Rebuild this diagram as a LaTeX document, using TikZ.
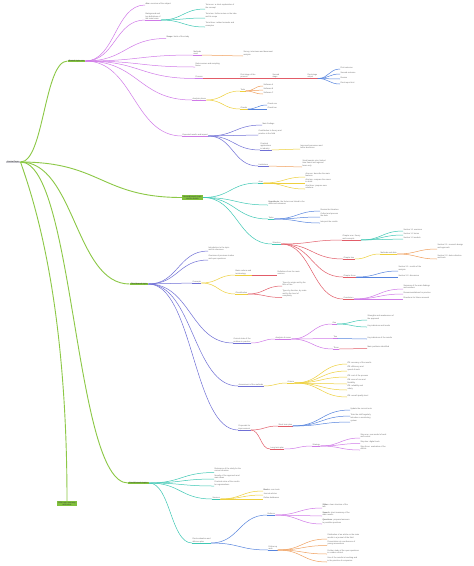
\documentclass[tikz,border=0pt]{standalone}
\usepackage{fontspec}
\setmainfont{Liberation Sans}
\usetikzlibrary{calc}
\definecolor{cgreen}{RGB}{140,200,70}
\definecolor{cgbox}{RGB}{128,192,60}
\definecolor{cpurple}{RGB}{208,122,232}
\definecolor{cteal}{RGB}{62,200,180}
\definecolor{cyellow}{RGB}{238,208,60}
\definecolor{corange}{RGB}{240,160,95}
\definecolor{cred}{RGB}{226,92,104}
\definecolor{cblue}{RGB}{86,132,222}
\definecolor{cindigo}{RGB}{112,112,214}
\definecolor{ctext}{RGB}{110,110,110}
\definecolor{croot}{RGB}{200,200,206}
\newcommand\T{\fontsize{2}{2.35}\selectfont}
% intermediate node with underline
\newcommand\nd[6][]{\node[lf,#1] (#2) at (#4,#5) {#6};\draw[ln,#3] (#2.south west) -- (#2.south east);}
% leaf without underline
\newcommand\lv[5]{\node[lf] (#1) at (#3,#4) {#5};}
\newcommand\cn[3]{\draw[ln,#1] let \p1=(#2.south east),\p2=(#3.south west),\p3=($(\p1)!.5!(\p2)$) in (\p1) .. controls (\x3,\y1) and (\x3,\y2) .. (\p2);}
\newcommand\cb[3]{\draw[ln,#1] let \p1=(#2.east),\p2=(#3.south west),\p3=($(\p1)!.5!(\p2)$) in (\p1) .. controls (\x3,\y1) and (\x3,\y2) .. (\p2);}
\newcommand\cg[2]{\draw[gl] let \p1=(#1.east),\p2=(#2.west),\p3=($(\p1)!.5!(\p2)$) in (\p1) .. controls (\x3,\y1) and (\x3,\y2) .. (\p2);}
\begin{document}
\begin{tikzpicture}[x=1pt,y=-1pt,
  lf/.style={anchor=south west,inner xsep=0.3pt,inner ysep=0.35pt,font=\T,text=ctext,align=left},
  ln/.style={line width=0.5pt},
  gl/.style={line width=0.9pt,cgreen},
  gbox/.style={fill=cgbox,font=\T,text=black!75,inner xsep=1.2pt,inner ysep=0.45pt,align=center},
  rootbox/.style={fill=croot,font=\T,text=black!80,inner xsep=1.5pt,inner ysep=0.5pt,align=center}]
\fill[white] (0,0) rectangle (474,566);
\useasboundingbox (0,0) rectangle (474,566);
% root and main branches
\node[rootbox] (root) at (13,162) {Central Topic};
\node[gbox] (G1) at (76.5,61) {Branch topic one};
\node[gbox] (G2) at (192.5,197.5) {Second branch topic\\and its details};
\node[gbox] (G3) at (139,284) {Third branch topic};
\node[gbox] (G4) at (138.5,483) {Fourth branch topics};
\node[gbox] (G5) at (67,503.5) {Fifth topic summary\\and notes};
% ---------- branch 1
\lv{Pa}{cpurple}{145}{5}{\textbf{Aim}: overview of the subject}
\nd{Pb}{cpurple}{145}{20}{Background and\\key definitions of\\the main terms}
\lv{Pb1}{cteal}{205}{9}{Term one: a short explanation of\\the concept}
\lv{Pb2}{cteal}{205}{18}{Term two: further notes on the idea\\and its scope}
\lv{Pb3}{cteal}{205}{27}{Term three: related remarks and\\examples}
\lv{Pc}{cpurple}{166}{38.5}{\textbf{Scope}: limits of the study}
\nd{Pd}{cpurple}{193}{55}{Methods\\used}
\lv{Pd1}{corange}{243}{56}{Survey, interviews and document\\analysis}
\lv{Pe}{cpurple}{195}{67}{Data sources and sampling\\frame}
\nd{Pf}{cpurple}{195}{78.5}{Process}
\nd{Pf1}{cred}{240}{78.5}{First stage of the\\process}
\nd{Pf2}{cred}{272}{78.5}{Second\\stage}
\nd{Pf3}{cred}{307}{78.5}{Final stage\\output}
\lv{Pfa}{cblue}{340}{69}{First outcome}
\lv{Pfb}{cblue}{340}{74}{Second outcome}
\lv{Pfc}{cblue}{340}{79}{Review}
\lv{Pfd}{cblue}{340}{84}{Final report text}
\nd{Pg}{cpurple}{192}{100}{Analysis phase}
\nd{Pg1}{cyellow}{240}{91}{Tools}
\lv{Pg1a}{corange}{263}{86}{Software A}
\lv{Pg1b}{corange}{263}{90}{Software B}
\lv{Pg1c}{corange}{263}{94}{Software C}
\nd{Pg2}{cyellow}{240}{109}{Checks}
\lv{Pg2a}{cblue}{267}{105}{Check one}
\lv{Pg2b}{cblue}{267}{109}{Check two}
\nd{Ph}{cpurple}{182}{136}{Expected results and impact}
\lv{Ph1}{cindigo}{262}{125}{Main findings}
\lv{Ph2}{cindigo}{258}{135}{Contribution to theory and\\practice in the field}
\nd{Ph3}{cindigo}{260}{150}{Practical\\applications\\in industry}
\lv{Ph3a}{cyellow}{300}{149}{Improved processes and\\better decisions}
\nd{Ph4}{cindigo}{258}{166}{Limitations}
\lv{Ph4a}{corange}{302}{167}{Small sample size, limited\\time frame and regional\\focus only}
% ---------- branch 2
\nd{Ta}{cteal}{258}{183}{Aims}
\lv{Ta1}{cyellow}{305}{177}{Aim one: describe the main\\features}
\lv{Ta2}{cyellow}{305}{183}{Aim two: compare the cases\\in detail}
\lv{Ta3}{cyellow}{305}{189}{Aim three: propose new\\solutions}
\lv{Tb}{cteal}{268}{205}{\textbf{Hypothesis}: the factors are linked to the\\observed outcomes}
\nd{Tc}{cteal}{268}{219}{Tasks}
\lv{Tc1}{cblue}{320}{211}{Review the literature}
\lv{Tc2}{cblue}{320}{217}{Collect and process\\the data}
\lv{Tc3}{cblue}{320}{223}{Interpret the results}
\nd{Td}{cteal}{272}{244}{Structure}
\nd{Ra}{cred}{342}{240}{Chapter one: theory\\and concepts}
\lv{Ra1}{cteal}{403}{231}{Section 1.1 overview}
\lv{Ra2}{cteal}{403}{235}{Section 1.2 terms}
\lv{Ra3}{cteal}{403}{239}{Section 1.3 models}
\nd{Rb}{cred}{343}{259}{Chapter two}
\nd{Rb1}{cyellow}{380}{254}{Methods and data}
\lv{Rb1a}{corange}{437}{249}{Section 2.1: research design\\and approach}
\lv{Rb1b}{corange}{437}{259}{Section 2.2: data collection\\and tools}
\nd{Rc}{cred}{343}{277}{Chapter three}
\lv{Rc1}{cblue}{398}{271}{Section 3.1: results of the\\analysis}
\lv{Rc2}{cblue}{398}{277}{Section 3.2: discussion}
\nd{Rd}{cred}{343}{299}{Conclusion}
\lv{Rd1}{cpurple}{403}{289}{Summary of the main findings\\and answers}
\lv{Rd2}{cpurple}{403}{294}{Recommendations for practice}
\lv{Rd3}{cpurple}{403}{299}{Directions for future research}
% ---------- branch 3
\lv{Ia}{cindigo}{208}{251}{Introduction to the topic\\and its relevance}
\lv{Ib}{cindigo}{208}{260}{Overview of previous studies\\and open questions}
\nd{Ic}{cindigo}{192}{283}{Concepts}
\nd{Ic1}{cyellow}{235}{275}{Basic notions and\\terminology}
\lv{Ic1a}{cred}{277}{275}{Definitions from the main\\sources}
\nd{Ic2}{cyellow}{235}{294}{Classification}
\lv{Ic2a}{cred}{282}{286}{Types by origin and by the\\form of use}
\lv{Ic2b}{cred}{282}{297.5}{Types by function, by scale\\and by the level of\\complexity}
\nd{Id}{cindigo}{233}{343}{Current state of the\\problem in practice}
\nd{Id1}{cpurple}{275}{339}{Analysis of cases}
\nd{Ie1}{cpurple}{332}{324}{One}
\lv{Ie1a}{cteal}{367}{320}{Strengths and weaknesses of\\the approach}
\lv{Ie1b}{cteal}{367}{327}{Key indicators and trends}
\nd{Ie2}{cpurple}{333}{338.5}{Two}
\lv{Ie2a}{cblue}{367}{339}{Key indicators of the results}
\nd{Ie3}{cpurple}{333}{349}{Three}
\lv{Ie3a}{cred}{367}{348.5}{Main problems identified}
\nd{If}{cindigo}{238}{386}{Assessment of the methods}
\nd{If1}{cyellow}{287}{383}{Criteria}
\lv{If1a}{cyellow}{347}{364}{\textbf{C1}: accuracy of the results}
\lv{If1b}{cyellow}{347}{371}{\textbf{C2}: efficiency and\\speed of work}
\lv{If1c}{cyellow}{347}{377}{\textbf{C3}: cost of the process}
\lv{If1d}{cyellow}{347}{384}{\textbf{C4}: ease of use and\\flexibility}
\lv{If1e}{cyellow}{347}{390}{\textbf{C5}: reliability and\\safety}
\lv{If1f}{cyellow}{347}{397}{\textbf{C6}: overall quality level}
\nd{Ig}{cindigo}{238}{430}{Proposals for\\improvement}
\nd{Ig1}{cred}{278}{426}{Short term plan}
\lv{Ig1a}{cblue}{350}{410}{Update the current tools}
\lv{Ig1b}{cblue}{350}{416}{Train the staff regularly}
\lv{Ig1c}{cblue}{350}{422}{Introduce a monitoring\\system}
\nd{Ig2}{cred}{270}{449}{Long term plan}
\nd{Ig2a}{cpurple}{312}{446}{Strategy}
\lv{Ig2b}{cpurple}{360}{438}{Step one: new model of work\\and control}
\lv{Ig2c}{cpurple}{360}{443.5}{Step two: digital tools}
\lv{Ig2d}{cpurple}{360}{450}{Step three: evaluation of the\\effects}
% ---------- branch 4
\lv{Fa}{cteal}{214}{472.5}{Relevance of the study for the\\current situation}
\lv{Fb}{cteal}{214}{479}{Novelty of the approach and\\main ideas}
\lv{Fc}{cteal}{214}{486}{Practical value of the results\\for organisations}
\nd{Fd}{cteal}{212}{499}{Sources}
\lv{Fd1}{cyellow}{263}{491}{\textbf{Books}: core texts}
\lv{Fd2}{cyellow}{263}{495}{Journal articles}
\lv{Fd3}{cyellow}{263}{499}{Online databases}
\nd{Fe}{cteal}{192}{543}{Final evaluation and\\defence plan}
\nd{Fe1}{cblue}{267}{515}{Defence}
\lv{Fe1a}{cpurple}{322}{508}{\textbf{Slides}: clear structure of the\\talk}
\lv{Fe1b}{cpurple}{322}{516}{\textbf{Speech}: short summary of the\\main results}
\lv{Fe1c}{cpurple}{322}{524}{\textbf{Questions}: prepared answers\\to possible questions}
\nd{Fe2}{cblue}{268}{550}{Follow-up\\work}
\lv{Fe2a}{corange}{327}{539}{Publication of an article on the main\\results in a journal of the field}
\lv{Fe2b}{corange}{327}{545.5}{Presentation at a conference of\\young researchers}
\lv{Fe2c}{corange}{327}{554}{Further study of the open questions\\in a wider context}
\lv{Fe2d}{corange}{327}{562}{Use of the results in teaching and\\in the practice of companies}
% ---------- connectors
\cg{root}{G1}\cg{root}{G2}\cg{root}{G3}\cg{root}{G4}
\draw[gl] (root.east) .. controls +(14,40) and +(0,-200) .. (G5.north);
\foreach \c in {Pa,Pb,Pc,Pd,Pe,Pf,Pg,Ph}{\cb{cpurple}{G1}{\c}}
\foreach \c in {Pb1,Pb2,Pb3}{\cn{cteal}{Pb}{\c}}
\cn{corange}{Pd}{Pd1}
\cn{cred}{Pf}{Pf1}\cn{cred}{Pf1}{Pf2}\cn{cred}{Pf2}{Pf3}
\foreach \c in {Pfa,Pfb,Pfc,Pfd}{\cn{cblue}{Pf3}{\c}}
\cn{cyellow}{Pg}{Pg1}\cn{cyellow}{Pg}{Pg2}
\foreach \c in {Pg1a,Pg1b,Pg1c}{\cn{corange}{Pg1}{\c}}
\foreach \c in {Pg2a,Pg2b}{\cn{cblue}{Pg2}{\c}}
\foreach \c in {Ph1,Ph2,Ph3,Ph4}{\cn{cindigo}{Ph}{\c}}
\cn{cyellow}{Ph3}{Ph3a}\cn{corange}{Ph4}{Ph4a}
\foreach \c in {Ta,Tb,Tc,Td}{\cb{cteal}{G2}{\c}}
\foreach \c in {Ta1,Ta2,Ta3}{\cn{cyellow}{Ta}{\c}}
\foreach \c in {Tc1,Tc2,Tc3}{\cn{cblue}{Tc}{\c}}
\foreach \c in {Ra,Rb,Rc,Rd}{\cn{cred}{Td}{\c}}
\foreach \c in {Ra1,Ra2,Ra3}{\cn{cteal}{Ra}{\c}}
\cn{cyellow}{Rb}{Rb1}
\foreach \c in {Rb1a,Rb1b}{\cn{corange}{Rb1}{\c}}
\foreach \c in {Rc1,Rc2}{\cn{cblue}{Rc}{\c}}
\foreach \c in {Rd1,Rd2,Rd3}{\cn{cpurple}{Rd}{\c}}
\foreach \c in {Ia,Ib,Ic,Id,If,Ig}{\cb{cindigo}{G3}{\c}}
\cn{cyellow}{Ic}{Ic1}\cn{cyellow}{Ic}{Ic2}
\cn{cred}{Ic1}{Ic1a}\cn{cred}{Ic2}{Ic2a}\cn{cred}{Ic2}{Ic2b}
\cn{cpurple}{Id}{Id1}
\foreach \c in {Ie1,Ie2,Ie3}{\cn{cpurple}{Id1}{\c}}
\cn{cteal}{Ie1}{Ie1a}\cn{cteal}{Ie1}{Ie1b}
\cn{cblue}{Ie2}{Ie2a}\cn{cred}{Ie3}{Ie3a}
\cn{cyellow}{If}{If1}
\foreach \c in {If1a,If1b,If1c,If1d,If1e,If1f}{\cn{cyellow}{If1}{\c}}
\cn{cred}{Ig}{Ig1}\cn{cred}{Ig}{Ig2}
\foreach \c in {Ig1a,Ig1b,Ig1c}{\cn{cblue}{Ig1}{\c}}
\cn{cpurple}{Ig2}{Ig2a}
\foreach \c in {Ig2b,Ig2c,Ig2d}{\cn{cpurple}{Ig2a}{\c}}
\foreach \c in {Fa,Fb,Fc,Fd,Fe}{\cb{cteal}{G4}{\c}}
\foreach \c in {Fd1,Fd2,Fd3}{\cn{cyellow}{Fd}{\c}}
\cn{cblue}{Fe}{Fe1}\cn{cblue}{Fe}{Fe2}
\foreach \c in {Fe1a,Fe1b,Fe1c}{\cn{cpurple}{Fe1}{\c}}
\foreach \c in {Fe2a,Fe2b,Fe2c,Fe2d}{\cn{corange}{Fe2}{\c}}
\end{tikzpicture}
\end{document}
